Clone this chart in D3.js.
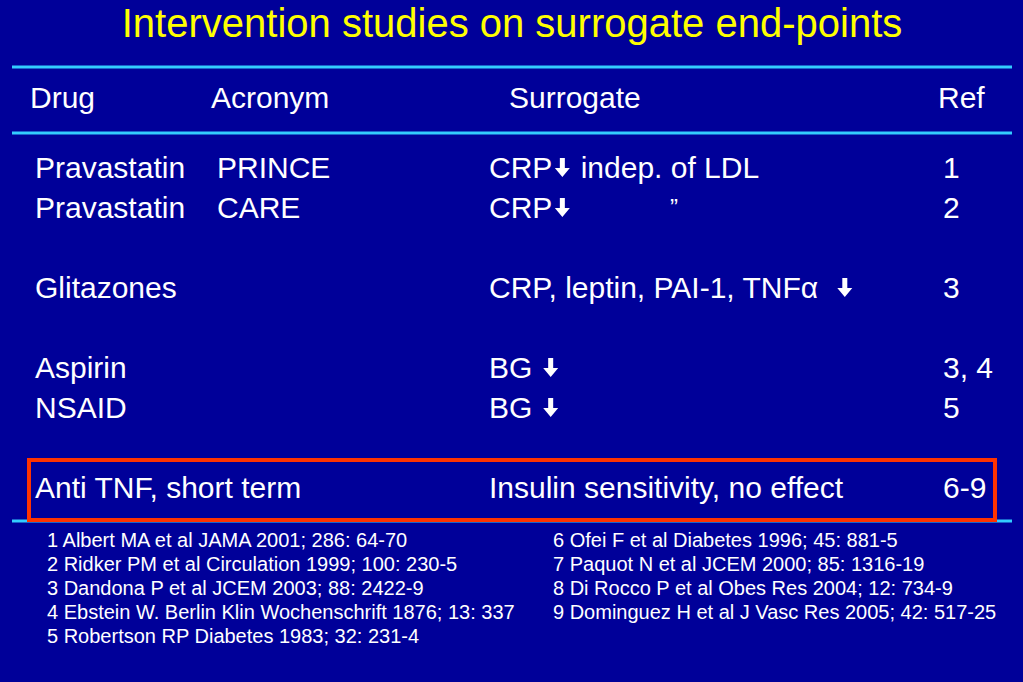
<!DOCTYPE html>
<html><head><meta charset="utf-8">
<script src="https://cdn.jsdelivr.net/npm/d3@7"></script>
<style>
body{margin:0;background:#000099;}
svg{display:block;font-family:"Liberation Sans",Arial,sans-serif;}
</style></head><body>
<svg id="slide" width="1023" height="682"></svg>
<script>
var title = "Intervention studies on surrogate end-points";
var headers = [{name:"Drug", x:30}, {name:"Acronym", x:211}, {name:"Surrogate", x:509}, {name:"Ref", x:938}];
// slot = line number in the body, "|" marks a down arrow
var rows = [
  {slot:0, drug:"Pravastatin", acronym:"PRINCE", surrogate:"CRP| indep. of LDL", ref:"1"},
  {slot:1, drug:"Pravastatin", acronym:"CARE", surrogate:"CRP|", ditto:true, ref:"2"},
  {slot:3, drug:"Glitazones", acronym:"", surrogate:"CRP, leptin, PAI-1, TNF\u03B1  |", ref:"3"},
  {slot:5, drug:"Aspirin", acronym:"", surrogate:"BG |", ref:"3, 4"},
  {slot:6, drug:"NSAID", acronym:"", surrogate:"BG |", ref:"5"},
  {slot:8, drug:"Anti TNF, short term", acronym:"", surrogate:"Insulin sensitivity, no effect", ref:"6-9"}
];
var refsLeft = ["1 Albert MA et al JAMA 2001; 286: 64-70",
  "2 Ridker PM et al Circulation 1999; 100: 230-5",
  "3 Dandona P et al JCEM 2003; 88: 2422-9",
  "4 Ebstein W. Berlin Klin Wochenschrift 1876; 13: 337",
  "5 Robertson RP Diabetes 1983; 32: 231-4"];
var refsRight = ["6 Ofei F et al Diabetes 1996; 45: 881-5",
  "7 Paquot N et al JCEM 2000; 85: 1316-19",
  "8 Di Rocco P et al Obes Res 2004; 12: 734-9",
  "9 Dominguez H et al J Vasc Res 2005; 42: 517-25"];

var svg = d3.select("#slide");
var yRow = d3.scaleLinear().domain([0, 8]).range([178, 498]);
var yRef = d3.scaleLinear().domain([0, 4]).range([547, 643]);

svg.append("text").attr("x", 512).attr("y", 37).attr("text-anchor", "middle")
  .attr("fill", "#ffff00").attr("font-size", 40).text(title);

[67, 133, 521].forEach(function(y) {
  svg.append("line").attr("x1", 12).attr("x2", 1012).attr("y1", y).attr("y2", y)
    .attr("stroke", "#33ccff").attr("stroke-width", 3);
});

svg.selectAll(".hd").data(headers).enter().append("text")
  .attr("x", function(d) { return d.x; }).attr("y", 108)
  .attr("fill", "#fff").attr("font-size", 30).text(function(d) { return d.name; });

svg.append("rect").attr("x", 29).attr("y", 460).attr("width", 966).attr("height", 60)
  .attr("fill", "none").attr("stroke", "#ff3300").attr("stroke-width", 4);

function arrow(x, y) {
  // small solid down arrow, top at y-20
  svg.append("path")
    .attr("d", "M" + (x-2.5) + "," + (y-20) + "h5v10h5l-7.5,9l-7.5,-9h5z")
    .attr("fill", "#fff");
}

rows.forEach(function(r) {
  var y = yRow(r.slot);
  svg.append("text").attr("x", 35).attr("y", y).attr("fill", "#fff").attr("font-size", 30).text(r.drug);
  svg.append("text").attr("x", 217).attr("y", y).attr("fill", "#fff").attr("font-size", 30).text(r.acronym);
  svg.append("text").attr("x", 943).attr("y", y).attr("fill", "#fff").attr("font-size", 30).text(r.ref);
  var x = 489;
  r.surrogate.split("|").forEach(function(part, i) {
    if (i > 0) { arrow(x + 10, y); x += 20; }
    if (part) {
      var t = svg.append("text").attr("x", x).attr("y", y).attr("fill", "#fff")
        .attr("font-size", 30).attr("xml:space", "preserve").style("white-space", "pre").text(part);
      x += t.node().getComputedTextLength();
    }
  });
  if (r.ditto) svg.append("text").attr("x", 670).attr("y", y - 2).attr("fill", "#fff").attr("font-size", 24).text("\u201D");
});

svg.selectAll(".rl").data(refsLeft).enter().append("text")
  .attr("x", 47).attr("y", function(d, i) { return yRef(i); })
  .attr("fill", "#fff").attr("font-size", 20).text(function(d) { return d; });
svg.selectAll(".rr").data(refsRight).enter().append("text")
  .attr("x", 553).attr("y", function(d, i) { return yRef(i); })
  .attr("fill", "#fff").attr("font-size", 20).text(function(d) { return d; });
</script>
</body></html>
